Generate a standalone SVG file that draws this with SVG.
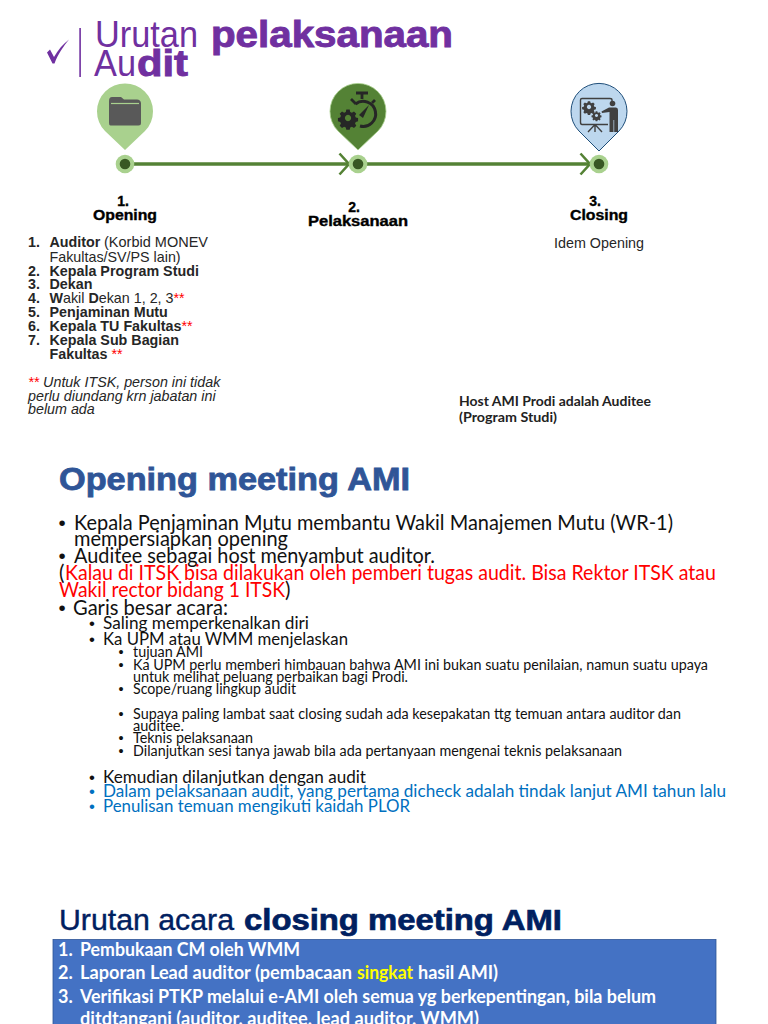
<svg xmlns="http://www.w3.org/2000/svg" width="768" height="1024" viewBox="0 0 768 1024">
<style>
text{white-space:pre}
.a{font-family:"Liberation Sans",Arial,sans-serif}
.c{font-family:Lato,"Noto Sans",sans-serif}
.t{fill:#7030A0;font-size:36px}
.hb{font-weight:bold;stroke-width:.9px}
.lab{font-family:"Liberation Sans",Arial,sans-serif;font-weight:bold;font-size:14px;fill:#000;stroke:#000;stroke-width:.35px}
.l{font-size:14.300px;fill:#262626}
.b{font-weight:bold}
.i{font-style:italic}
.l1{font-size:20.500px;fill:#111}
.l2{font-size:16.800px;fill:#111}
.l3{font-size:14.500px;fill:#111}
.bu{font-family:"Liberation Sans",Arial,sans-serif}
.blue{fill:#0070C0}
.w{font-size:18px;fill:#fff;font-weight:bold}
.r{fill:#FF0000}
.y{fill:#FFFF00}
.node-line{fill:none;stroke:#548235;stroke-width:3.600}
</style>
<defs>
<marker id="chev" markerUnits="userSpaceOnUse" markerWidth="14" markerHeight="26" refX="11" refY="13" orient="auto">
<path d="M1.500 2.500L11 13L1.500 23.500" fill="none" stroke="#548235" stroke-width="2.600"/>
</marker>
<g id="dot"><circle r="9.300" fill="#A9D18E"/><circle r="5.300" fill="#385723"/></g>
<path id="gear" d="M-1.600-8h3.200l.5 2.200 1.600.7 2-1.200 2.200 2.200-1.200 2 .7 1.600 2.200.5v3.200l-2.200.5-.7 1.600 1.200 2-2.200 2.200-2-1.200-1.600.7-.5 2.200h-3.200l-.5-2.200-1.600-.7-2 1.200-2.200-2.200 1.200-2-.7-1.600-2.200-.5v-3.200l2.200-.5.7-1.600-1.200-2 2.200-2.200 2 1.200 1.600-.7zM0-3a3 3 0 1 0 .01 0z" fill-rule="evenodd"/>
</defs>

<g id="title">
<path d="M47 52.500L50 49.500L54 57C58 50 63 44 69 39.500C63 47 58 54 54.500 63.500L52.500 63.500Z" fill="#7030A0"/>
<rect x="79.300" y="28" width="1.600" height="49" fill="#7030A0"/>
<text class="a t" x="95" y="47" textLength="103" lengthAdjust="spacingAndGlyphs">Urutan</text>
<text class="a t hb" x="211" y="47" textLength="242" lengthAdjust="spacingAndGlyphs" stroke="#7030A0">pelaksanaan</text>
<text class="a t" x="94" y="76" textLength="42" lengthAdjust="spacingAndGlyphs">Au</text>
<text class="a t hb" x="137" y="76" textLength="51" lengthAdjust="spacingAndGlyphs" stroke="#7030A0">dit</text>
</g>

<g id="connectors">
<path class="node-line" d="M130 164H349" marker-end="url(#chev)"/>
<path class="node-line" d="M363 164H590" marker-end="url(#chev)"/>
</g>

<g id="node-opening">
<path d="M125 150L105 131A28 28 0 1 1 145 131Z" fill="#A9D18E"/>
<path d="M110.500 125.500Q109 125.500 109 123V101Q109 97 112 97H121L124 99.500H137Q140.500 99.500 141 103V123Q141 125.500 138.500 125.500Z" fill="#595959"/>
<path d="M111 103.500H139" stroke="#A9D18E" stroke-width="1.200" fill="none"/>
<use href="#dot" x="125" y="164"/>
<text class="lab" x="123" y="206" text-anchor="middle">1.</text>
<text class="lab" x="93" y="220" textLength="64" lengthAdjust="spacingAndGlyphs">Opening</text>
</g>

<g id="node-pelaksanaan">
<path d="M358 150L338 131A28 28 0 1 1 378 131Z" fill="#548235" stroke="#A9D18E" stroke-width=".8"/>
<path d="M355.500 104A12.500 12.500 0 1 1 360 126" fill="none" stroke="#262626" stroke-width="3"/>
<path d="M356 93H368M362 93V99M351 99L356 104M375 100L372 103" stroke="#262626" stroke-width="2.800" fill="none"/>
<path d="M359 115L369 105L363 118Z" fill="#262626"/>
<use href="#gear" transform="translate(348 118) scale(1.050)" fill="#262626"/>
<use href="#dot" x="358" y="164"/>
<text class="lab" x="354" y="212" text-anchor="middle">2.</text>
<text class="lab" x="308" y="226" textLength="100" lengthAdjust="spacingAndGlyphs">Pelaksanaan</text>
</g>

<g id="node-closing">
<path d="M599 151L579 131A28 28 0 1 1 619 131Z" fill="#BDD7EE" stroke="#1F4E79" stroke-width="1"/>
<path d="M612 103V100Q612 98.500 610 98.500H582Q580.500 98.500 580.500 100V122Q580.500 124.500 582 124.500H608" fill="none" stroke="#404040" stroke-width="1.400"/>
<path d="M595 124.500L588 132M595 124.500V132M595 124.500L602 132" stroke="#404040" stroke-width="1.400" fill="none"/>
<use href="#gear" transform="translate(589 107) scale(.72)" fill="#404040"/>
<use href="#gear" transform="translate(596.500 115.500) scale(.52)" fill="#404040"/>
<circle cx="612.500" cy="103.500" r="2.800" fill="#404040"/>
<path d="M601.500 111.500L609 107.500H616Q618 107.500 618 110V132H614.200V120H613.500V132H609.500V112L602 113Z" fill="#404040"/>
<use href="#dot" x="599" y="164"/>
<text class="lab" x="595" y="206" text-anchor="middle">3.</text>
<text class="lab" x="570" y="220" textLength="58" lengthAdjust="spacingAndGlyphs">Closing</text>
<text class="a l" x="554" y="248" textLength="90" lengthAdjust="spacingAndGlyphs">Idem Opening</text>
</g>

<g id="attendees" class="a l">
<text class="b" x="28" y="247">1.</text><text class="b" x="49.500" y="247">Auditor</text><text x="104" y="247" textLength="104" lengthAdjust="spacingAndGlyphs">(Korbid MONEV</text>
<text x="49.500" y="262">Fakultas/SV/PS lain)</text>
<text class="b" x="28" y="276">2.</text><text class="b" x="49.500" y="276">Kepala Program Studi</text>
<text class="b" x="28" y="289">3.</text><text class="b" x="49.500" y="289">Dekan</text>
<text class="b" x="28" y="303">4.</text><text x="49.500" y="303"><tspan class="b">W</tspan>akil <tspan class="b">D</tspan>ekan 1, 2, 3<tspan class="r">**</tspan></text>
<text class="b" x="28" y="317">5.</text><text class="b" x="49.500" y="317">Penjaminan Mutu</text>
<text class="b" x="28" y="331">6.</text><text x="49.500" y="331"><tspan class="b">Kepala TU Fakultas</tspan><tspan class="r">**</tspan></text>
<text class="b" x="28" y="345">7.</text><text class="b" x="49.500" y="345">Kepala Sub Bagian</text>
<text x="49.500" y="359"><tspan class="b">Fakultas </tspan><tspan class="r">**</tspan></text>
<text class="i" x="28" y="387"><tspan class="r">**</tspan> Untuk ITSK, person ini tidak</text>
<text class="i" x="28" y="401">perlu diundang krn jabatan ini</text>
<text class="i" x="28" y="414">belum ada</text>
</g>

<g id="host" class="c" font-weight="bold" font-size="13.500" fill="#222">
<text x="459" y="406" textLength="192" lengthAdjust="spacingAndGlyphs">Host AMI Prodi adalah Auditee</text>
<text x="459" y="422" textLength="98" lengthAdjust="spacingAndGlyphs">(Program Studi)</text>
</g>

<g id="opening-meeting" class="c">
<text class="a" x="59" y="490" font-size="31" font-weight="bold" fill="#2F5597" stroke="#2F5597" stroke-width=".8" textLength="351" lengthAdjust="spacingAndGlyphs">Opening meeting AMI</text>
<text class="l1 bu" x="58.500" y="530">•</text><text class="l1" x="74" y="530" textLength="599" lengthAdjust="spacingAndGlyphs">Kepala Penjaminan Mutu membantu Wakil Manajemen Mutu (WR-1)</text>
<text class="l1" x="74" y="546" textLength="214" lengthAdjust="spacingAndGlyphs">mempersiapkan opening</text>
<text class="l1 bu" x="58.500" y="563">•</text><text class="l1" x="74" y="563" textLength="361" lengthAdjust="spacingAndGlyphs">Auditee sebagai host menyambut auditor.</text>
<text class="l1" x="59" y="580">(</text><text class="l1 r" x="65" y="580" textLength="651" lengthAdjust="spacingAndGlyphs">Kalau di ITSK bisa dilakukan oleh pemberi tugas audit. Bisa Rektor ITSK atau</text>
<text class="l1 r" x="59" y="597" textLength="226" lengthAdjust="spacingAndGlyphs">Wakil rector bidang 1 ITSK</text><text class="l1" x="285" y="597">)</text>
<text class="l1 bu" x="58.500" y="615">•</text><text class="l1" x="73" y="615" textLength="155" lengthAdjust="spacingAndGlyphs">Garis besar acara:</text>
<text class="l2 bu" x="89" y="629">•</text><text class="l2" x="103" y="629" textLength="206" lengthAdjust="spacingAndGlyphs">Saling memperkenalkan diri</text>
<text class="l2 bu" x="89" y="645">•</text><text class="l2" x="103" y="645" textLength="245" lengthAdjust="spacingAndGlyphs">Ka UPM atau WMM menjelaskan</text>
<text class="l3 bu" x="118.500" y="657">•</text><text class="l3" x="133" y="657" textLength="70" lengthAdjust="spacingAndGlyphs">tujuan AMI</text>
<text class="l3 bu" x="118.500" y="670">•</text><text class="l3" x="133" y="670" textLength="575" lengthAdjust="spacingAndGlyphs">Ka UPM perlu memberi himbauan bahwa AMI ini bukan suatu penilaian, namun suatu upaya</text>
<text class="l3" x="133" y="682" textLength="275" lengthAdjust="spacingAndGlyphs">untuk melihat peluang perbaikan bagi Prodi.</text>
<text class="l3 bu" x="118.500" y="694">•</text><text class="l3" x="133" y="694" textLength="163" lengthAdjust="spacingAndGlyphs">Scope/ruang lingkup audit</text>
<text class="l3 bu" x="118.500" y="719">•</text><text class="l3" x="133" y="719" textLength="548" lengthAdjust="spacingAndGlyphs">Supaya paling lambat saat closing sudah ada kesepakatan ttg temuan antara auditor dan</text>
<text class="l3" x="133" y="731" textLength="51" lengthAdjust="spacingAndGlyphs">auditee.</text>
<text class="l3 bu" x="118.500" y="743">•</text><text class="l3" x="133" y="743" textLength="120" lengthAdjust="spacingAndGlyphs">Teknis pelaksanaan</text>
<text class="l3 bu" x="118.500" y="756">•</text><text class="l3" x="133" y="756" textLength="489" lengthAdjust="spacingAndGlyphs">Dilanjutkan sesi tanya jawab bila ada pertanyaan mengenai teknis pelaksanaan</text>
<text class="l2 bu" x="89" y="783">•</text><text class="l2" x="103" y="783" textLength="263" lengthAdjust="spacingAndGlyphs">Kemudian dilanjutkan dengan audit</text>
<text class="l2 bu blue" x="89" y="797">•</text><text class="l2 blue" x="103" y="797" textLength="623" lengthAdjust="spacingAndGlyphs">Dalam pelaksanaan audit, yang pertama dicheck adalah tindak lanjut AMI tahun lalu</text>
<text class="l2 bu blue" x="89" y="812">•</text><text class="l2 blue" x="103" y="812" textLength="307" lengthAdjust="spacingAndGlyphs">Penulisan temuan mengikuti kaidah PLOR</text>
</g>

<g id="closing-meeting" class="c">
<text class="a" x="59" y="930" font-size="30" fill="#002060" stroke="#002060" stroke-width=".4" textLength="175" lengthAdjust="spacingAndGlyphs">Urutan acara</text>
<text class="a" x="244" y="930" font-size="30" font-weight="bold" fill="#002060" stroke="#002060" stroke-width=".7" textLength="318" lengthAdjust="spacingAndGlyphs">closing meeting AMI</text>
<rect x="53" y="939.500" width="663" height="90" fill="#4472C4" stroke="#2F5597" stroke-width=".8"/>
<text class="w" x="58" y="956">1.</text><text class="w" x="80" y="956" textLength="220" lengthAdjust="spacingAndGlyphs">Pembukaan CM oleh WMM</text>
<text class="w" x="58" y="979">2.</text><text class="w" x="80" y="979" textLength="272" lengthAdjust="spacingAndGlyphs">Laporan Lead auditor (pembacaan</text><text class="w y" x="357" y="979" textLength="56" lengthAdjust="spacingAndGlyphs">singkat</text><text class="w" x="418" y="979" textLength="80" lengthAdjust="spacingAndGlyphs">hasil AMI)</text>
<text class="w" x="58" y="1003">3.</text><text class="w" x="80" y="1003" textLength="576" lengthAdjust="spacingAndGlyphs">Verifikasi PTKP melalui e-AMI oleh semua yg berkepentingan, bila belum</text>
<text class="w" x="80" y="1025" textLength="399" lengthAdjust="spacingAndGlyphs">ditdtangani (auditor, auditee, lead auditor, WMM)</text>
</g>
</svg>
